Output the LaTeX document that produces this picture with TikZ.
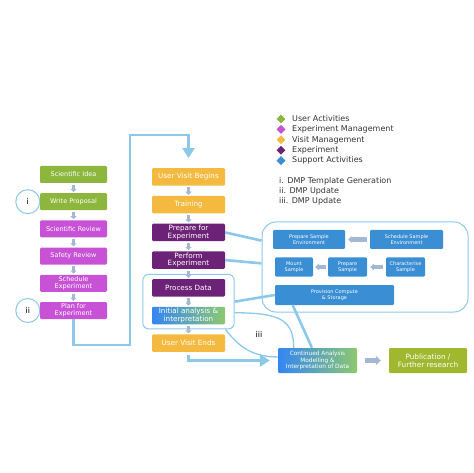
\documentclass[tikz,border=0pt]{standalone}
\usepackage{fontspec}
\setmainfont{DejaVu Sans}
\usetikzlibrary{arrows.meta,shapes,positioning,backgrounds,fit,calc}

\definecolor{useract}{RGB}{140,182,60}
\definecolor{exman}{RGB}{200,82,214}
\definecolor{visitman}{RGB}{244,186,64}
\definecolor{expcol}{RGB}{108,34,118}
\definecolor{support}{RGB}{58,142,212}
\definecolor{linkblue}{RGB}{140,200,234}
\definecolor{stepgray}{RGB}{164,184,214}
\definecolor{gradblue}{RGB}{52,134,244}
\definecolor{gradgreen}{RGB}{140,200,112}
\definecolor{pubgreen}{RGB}{160,184,48}

\begin{document}
\begin{tikzpicture}[x=1pt,y=-1pt,node distance=9.8pt]

  \tikzstyle{stage}=[rectangle,rounded corners=1.2pt,text=white,align=center,inner sep=0pt,
                     font=\fontsize{6.5}{7}\selectfont,minimum width=67pt,minimum height=17pt]
  \tikzstyle{visit}=[stage,minimum width=73pt,minimum height=17.5pt,font=\fontsize{7.2}{7.8}\selectfont]
  \tikzstyle{task}=[stage,fill=support,minimum height=19pt,font=\fontsize{5}{5.6}\selectfont]
  \tikzstyle{stepline}=[draw=stepgray,line width=3pt,-{Triangle[width=6pt,length=3pt]},
                        shorten <=1.5pt,shorten >=1pt]
  \tikzstyle{link}=[draw=linkblue,line width=2.6pt]
  \tikzstyle{thinlink}=[draw=linkblue,line width=1.3pt]
  \tikzstyle{bigtip}=[-{Triangle[width=12pt,length=10pt]}]
  \tikzstyle{dmpmark}=[circle,draw=linkblue,line width=1pt,fill=white,minimum size=24pt,
                       inner sep=0pt,font=\fontsize{8}{8}\selectfont]
  \tikzstyle{legendmark}=[diamond,minimum size=9pt,inner sep=0pt]
  \tikzstyle{legendtext}=[inner sep=0pt,text=black!80,font=\fontsize{8}{8}\selectfont]

  \useasboundingbox (0,0) rectangle (474,473);

  % user side
  \node [stage,fill=useract] (idea)     at (73.5,174.5)   {Scientific Idea};
  \node [stage,fill=useract] (proposal) [below=of idea]     {Write Proposal};
  \node [stage,fill=exman]   (sreview)  [below=of proposal] {Scientific Review};
  \node [stage,fill=exman]   (safety)   [below=of sreview]  {Safety Review};
  \node [stage,fill=exman]   (schedule) [below=of safety]   {Schedule\\Experiment};
  \node [stage,fill=exman]   (plan)     [below=of schedule] {Plan for\\Experiment};

  \draw [stepline] (idea)     -- (proposal);
  \draw [stepline] (proposal) -- (sreview);
  \draw [stepline] (sreview)  -- (safety);
  \draw [stepline] (safety)   -- (schedule);
  \draw [stepline] (schedule) -- (plan);

  \begin{scope}[on background layer]
    \node [dmpmark] (markone) at (proposal.west) [xshift=-12pt] {i};
    \node [dmpmark] (marktwo) at (plan.west)     [xshift=-12pt] {ii};
  \end{scope}

  % visit
  \node [visit,fill=visitman] (visitbegin) at (188.5,177)       {User Visit Begins};
  \node [visit,fill=visitman] (training)   [below=of visitbegin] {Training};
  \node [visit,fill=expcol]   (prepexp)    [below=of training]   {Prepare for\\Experiment};
  \node [visit,fill=expcol]   (perfexp)    [below=of prepexp]    {Perform\\Experiment};
  \node [visit,fill=expcol]   (process)    [below=of perfexp]    {Process Data};
  \node [visit,left color=gradblue,right color=gradgreen]
                              (initial)    [below=of process]    {Initial analysis \&\\interpretation};
  \node [visit,fill=visitman] (visitend)   [below=of initial]    {User Visit Ends};

  \draw [stepline] (visitbegin) -- (training);
  \draw [stepline] (training)   -- (prepexp);
  \draw [stepline] (prepexp)    -- (perfexp);
  \draw [stepline] (perfexp)    -- (process);
  \draw [stepline] (process)    -- (initial);
  \draw [stepline] (initial)    -- (visitend);

  \begin{scope}[on background layer]
    \node [draw=linkblue,line width=1pt,rounded corners=6pt,inner xsep=9pt,inner ysep=4.5pt,
           fit=(process)(initial)] (analysisgroup) {};
  \end{scope}

  % support activities
  \node [draw=linkblue,line width=1pt,rounded corners=14pt,minimum width=206pt,minimum height=90pt]
        (supportbox) at (365,267) {};
  \node [task,minimum width=72pt]  (sampleenv)   at (309,239.5)   {Prepare Sample\\Environment};
  \node [task,minimum width=73pt]  (scheduleenv) at (406.5,239.5) {Schedule Sample\\Environment};
  \node [task,minimum width=38pt]  (mount)       at (294,267)     {Mount\\Sample};
  \node [task,minimum width=39pt]  (prepsample)  at (347.5,267)   {Prepare\\Sample};
  \node [task,minimum width=39pt]  (characterise) at (405.5,267)  {Characterise\\Sample};
  \node [task,minimum width=119pt,minimum height=20pt]
                                   (provision)   at (334.5,295)   {Provision Compute\\\& Storage};

  \draw [stepline,line width=4.5pt,-{Triangle[width=7pt,length=4pt]},shorten <=3pt,shorten >=3pt]
        (scheduleenv) -- (sampleenv);
  \draw [stepline,line width=4.5pt,-{Triangle[width=7pt,length=4pt]},shorten <=2pt,shorten >=2pt]
        (prepsample) -- (mount);
  \draw [stepline,line width=4.5pt,-{Triangle[width=7pt,length=4pt]},shorten <=3pt,shorten >=3pt]
        (characterise) -- (prepsample);

  % results
  \node [stage,left color=gradblue,right color=gradgreen,minimum width=79pt,minimum height=25pt,
         font=\fontsize{5.8}{6.2}\selectfont]
        (continued) at (317.5,360.5) {Continued Analysis\\Modelling \&\\Interpretation of Data};
  \node [stage,fill=pubgreen,minimum width=78pt,minimum height=25pt,font=\fontsize{7.3}{8.4}\selectfont]
        (publication) at (428,360.5) {Publication /\\Further research};
  \draw [stepline,line width=5pt,-{Triangle[width=9pt,length=5pt]},shorten <=8pt,shorten >=8pt]
        (continued) -- (publication);

  % connectors
  \coordinate (routelow)  at (130,345);
  \coordinate (routehigh) at (130,135);
  \draw [link,bigtip,shorten >=10pt] (plan.south) |- (routelow) -- (routehigh) -| (visitbegin.north);
  \draw [link,bigtip,shorten <=3pt,shorten >=8pt] (visitend.south) |- (continued.west);
  \draw [link] (prepexp.east) -- ($(supportbox.north west)!0.21!(supportbox.south west)$);
  \draw [link] (perfexp.east) -- ($(supportbox.north west)!0.46!(supportbox.south west)$);
  \draw [link] (analysisgroup.east) -- (provision.west);
  \draw [link] ($(provision.south west)!0.15!(provision.south east)$)
            -- ($(continued.north west)!0.43!(continued.north east)$);
  \draw [thinlink] ($(analysisgroup.north east)!0.7!(analysisgroup.south east)$)
        .. controls +(45,0) and +(0,-28) .. ($(continued.north west)!0.2!(continued.north east)$);
  \draw [thinlink] ($(analysisgroup.south west)!0.9!(analysisgroup.south east)$)
        .. controls +(14,18) and +(-25,0) .. ($(continued.north west)!0.36!(continued.south west)$);
  \node [font=\fontsize{8}{8}\selectfont] (markthree) at (259,334) {iii};

  % legend
  \foreach \col/\txt [count=\k] in {useract/User Activities,exman/Experiment Management,
      visitman/Visit Management,expcol/Experiment,support/Support Activities} {
    \node [legendmark,fill=\col] (key\k) at (281,108.6+10.4*\k) {};
    \node [legendtext,anchor=west] (keytext\k) at (292,108.6+10.4*\k) {\txt};
  }
  \node [legendtext,anchor=west] (dmpone)   at (279,181) {i. DMP Template Generation};
  \node [legendtext,anchor=west] (dmptwo)   at (279,191) {ii. DMP Update};
  \node [legendtext,anchor=west] (dmpthree) at (279,201) {iii. DMP Update};

\end{tikzpicture}
\end{document}
